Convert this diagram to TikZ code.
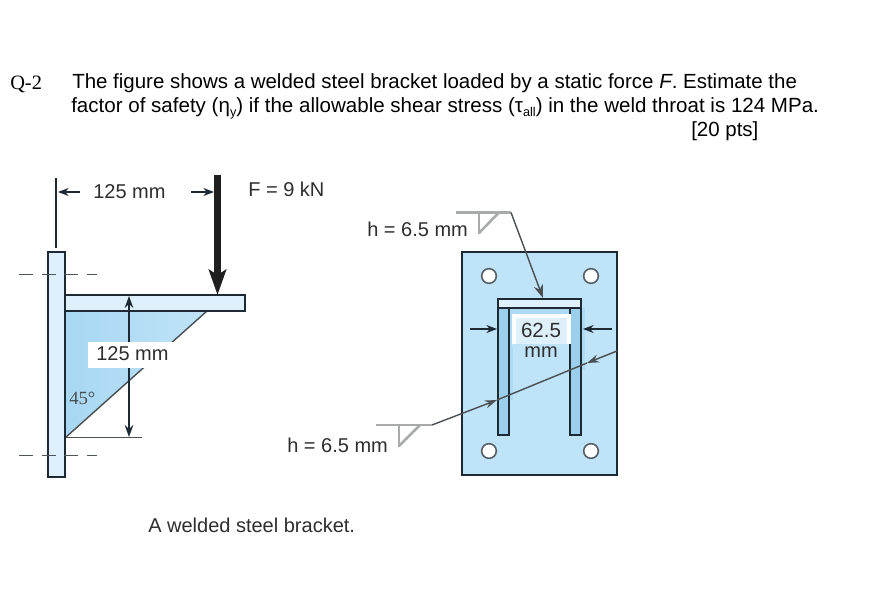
\documentclass[tikz,border=0pt]{standalone}
\usepackage{fontspec}
\setmainfont{Liberation Sans}
\newfontfamily\qfont{Liberation Serif}
\usetikzlibrary{arrows.meta}
\definecolor{plate}{HTML}{BFE3F8}
\definecolor{pale}{HTML}{DDF0FB}
\definecolor{mid}{HTML}{A2D4F0}
\definecolor{leg}{HTML}{9CCFEC}
\definecolor{ink}{HTML}{1E2A33}
\definecolor{leader}{HTML}{4A4F52}
\definecolor{symb}{HTML}{A9ABAB}
\tikzset{
  part/.style={draw=ink,line width=1.5pt},
  dim/.style={ink,line width=0.85pt,-{Stealth[length=8pt,width=6pt]}},
  dimline/.style={ink,line width=1pt},
  cl/.style={ink!80,line width=0.75pt,dash pattern=on 10.5pt off 6.5pt},
  lead/.style={leader,line width=1.05pt},
  symbol/.style={symb,line width=1.9pt},
  para/.style={anchor=base west,inner sep=0pt,font=\fontsize{15.35pt}{18pt}\selectfont},
  fig/.style={anchor=base west,inner sep=0pt,text=black!82,font=\fontsize{15pt}{17pt}\selectfont},
  hole/.style={circle,draw=ink!75,fill=white,line width=1.2pt,minimum size=11pt,inner sep=0pt}
}
\newcommand{\smallsub}[1]{\raisebox{-2.5pt}{\fontsize{9.5pt}{10pt}\selectfont #1}}
\begin{document}
\begin{tikzpicture}[x=0.75pt,y=-0.75pt]
\useasboundingbox (0,0) rectangle (890,613);
\fill[white] (0,0) rectangle (890,613);
% text
\node[anchor=base west,inner sep=0pt,font=\qfont\fontsize{15.3pt}{18pt}\selectfont] (q) at (10,90) {Q-2};
\node[para] (t1) at (72,89) {The figure shows a welded steel bracket loaded by a static force \textit{F}. Estimate the};
\node[para,font=\fontsize{15.41pt}{18pt}\selectfont] (t2) at (71,113) {factor of safety (η\smallsub{y}) if the allowable shear stress (τ\smallsub{all}) in the weld throat is 124 MPa.};
\node[para] (t3) at (691,137) {[20 pts]};
% left view
\shade[left color=mid!80!plate,right color=plate] (65,311) -- (207,311) -- (65,438) -- cycle;
\draw[leader,line width=1.05pt] (207,311) -- (65,438);
\draw[part,fill=pale] (47.5,252) rectangle (65,477);
\draw[cl] (19,275) -- (97,275);
\draw[cl] (19,455.5) -- (97,455.5);
\draw[part,fill=pale] (65,295) rectangle (245,311);
\coordinate (walltop) at (56,178);
\coordinate (wallend) at (56,248);
\draw[ink,line width=1.4pt] (walltop) -- (wallend);
\coordinate (Ftop) at (217.5,175);
\coordinate (Ftip) at (217.5,295);
\draw[black!88,line width=5.2pt,-{Stealth[length=19pt,width=13pt,inset=4pt]}] (Ftop) -- (Ftip);
\coordinate (dl1) at (80,192);
\coordinate (dl2) at (58,192);
\coordinate (dr1) at (191,192);
\coordinate (dr2) at (214,192);
\draw[dim] (dl1) -- (dl2);
\draw[dim] (dr1) -- (dr2);
\node[fig] (lab1) at (93,199) {125 mm};
\node[fig] (labF) at (248,197) {F = 9 kN};
\coordinate (ext1) at (66,437.5);
\coordinate (ext2) at (142,437.5);
\draw[leader,line width=0.85pt] (ext1) -- (ext2);
\coordinate (v1) at (129,296);
\coordinate (v2) at (129,437);
\draw[dimline,{Stealth[length=9pt,width=6.5pt]}-{Stealth[length=9pt,width=6.5pt]}] (v1) -- (v2);
\node[fill=white,inner sep=0pt,minimum width=85pt*0.75,minimum height=26pt*0.75] (lab2box) at (130,355) {};
\node[fig] (lab2) at (96,360) {125 mm};
\node[anchor=base west,inner sep=0pt,text=leader,font=\qfont\fontsize{14pt}{16pt}\selectfont] (ang) at (69,404) {45°};
% right view
\draw[part,fill=plate] (461.5,252) rectangle (617,475);
\foreach \xx/\yy/\nm in {489/276/ha,591/276/hb,489/451/hc,591/451/hd}{
  \node[hole] (\nm) at (\xx,\yy) {};
}
\fill[mid!60!plate] (509,308) rectangle (513,400);
\fill[mid!60!plate] (581,308) rectangle (585,370);
\draw[part,fill=leg] (498,308) rectangle (509,435);
\draw[part,fill=leg] (570,308) rectangle (581,435);
\fill[mid!60!plate] (510,309) rectangle (569,316);
\draw[part,fill=pale] (498,299) rectangle (581,308);
\fill[white] (512,314) rectangle (571,344);
\fill[pale] (516,318) rectangle (567,344);
\fill[plate] (512,344) rectangle (569,347);
\node[anchor=base,inner sep=0pt,text=black!82,font=\fontsize{15.4pt}{17pt}\selectfont] (m1) at (541,338) {62.5};
\node[anchor=base,inner sep=0pt,text=black!82,font=\fontsize{15pt}{17pt}\selectfont] (m2) at (541,358) {mm};
\coordinate (wl1) at (470,329);
\coordinate (wl2) at (497,329);
\coordinate (wr1) at (612,329);
\coordinate (wr2) at (583,329);
\draw[dim] (wl1) -- (wl2);
\draw[dim] (wr1) -- (wr2);
% weld symbols and leaders
\coordinate (s1a) at (456,212.5);
\coordinate (s1b) at (511,212.5);
\coordinate (s1t) at (543,298);
\draw[symbol] (s1a) -- (s1b);
\draw[symbol] (479,212.5) -- (479,234);
\draw[symbol] (479,233) -- (499,212.5);
\draw[lead,-{Stealth[length=10pt,width=7pt]}] (s1b) -- (s1t);
\coordinate (s2a) at (376,425);
\coordinate (s2b) at (432,425);
\coordinate (s2t) at (497,400);
\coordinate (s2e) at (617,351);
\coordinate (s2u) at (587,363);
\draw[symbol] (s2a) -- (s2b);
\draw[symbol] (399,425) -- (399,447);
\draw[symbol] (399,446) -- (420,425);
\draw[lead,-{Stealth[length=9pt,width=6pt]}] (s2b) -- (s2t);
\draw[lead] (s2t) -- (s2u);
\draw[lead,-{Stealth[length=9pt,width=6pt]}] (s2e) -- (s2u);
\node[fig] (h1) at (367,237) {h = 6.5 mm};
\node[fig] (h2) at (287,452) {h = 6.5 mm};
\node[fig] (cap) at (148,532) {A welded steel bracket.};
\end{tikzpicture}
\end{document}
